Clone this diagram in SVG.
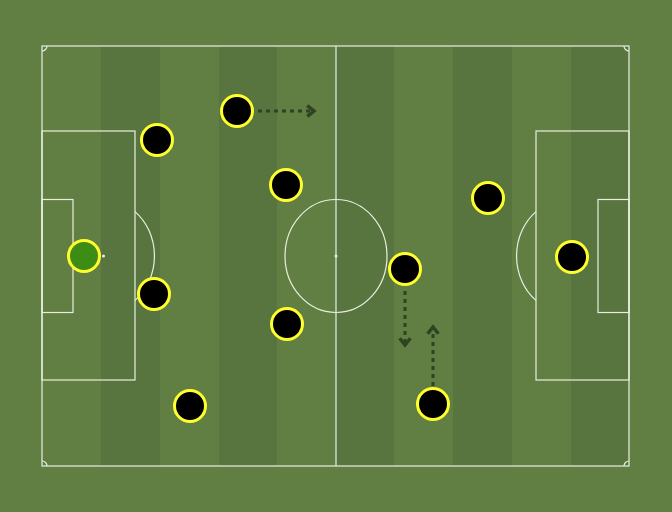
<svg xmlns="http://www.w3.org/2000/svg" width="672" height="512" viewBox="0 0 672 512">
<style>
.line{fill:none;stroke:#e8eee0;stroke-width:1.2}
.stripe{fill:#587540}
.p{fill:#000;stroke:#ffff2e;stroke-width:3}
.gk{fill:#3d8c16;stroke:#ffff2e;stroke-width:3}
.run{fill:none;stroke:#2f4320;stroke-width:3;stroke-dasharray:4 4}
</style>
<defs>
<marker id="ah" viewBox="0 0 10 10" refX="7" refY="5" markerWidth="4.5" markerHeight="4.5" orient="auto" markerUnits="strokeWidth">
<polyline points="2,1 7,5 2,9" fill="none" stroke="#2f4320" stroke-width="2.6"/>
</marker>
</defs>
<rect width="672" height="512" fill="#617f43"/>
<g id="stripes">
<rect class="stripe" x="101" y="46" width="59" height="420"/>
<rect class="stripe" x="219" y="46" width="58" height="420"/>
<rect class="stripe" x="336" y="46" width="58" height="420"/>
<rect class="stripe" x="453" y="46" width="59" height="420"/>
<rect class="stripe" x="571" y="46" width="58" height="420"/>
</g>
<g id="pitch-lines">
<rect class="line" x="42" y="46" width="587" height="420"/>
<line class="line" x1="336" y1="46" x2="336" y2="466"/>
<ellipse class="line" cx="336" cy="256" rx="51" ry="56.5"/>
<circle cx="336" cy="256" r="1.5" fill="#e8eee0"/>
<rect class="line" x="42" y="131" width="93" height="249"/>
<rect class="line" x="42" y="199.5" width="31" height="113"/>
<path class="line" d="M135,211.6 A51,56.5 0 0 1 135,300.4"/>
<circle cx="103.5" cy="256" r="1.5" fill="#e8eee0"/>
<rect class="line" x="536" y="131" width="93" height="249"/>
<rect class="line" x="598" y="199.5" width="31" height="113"/>
<path class="line" d="M536,211.6 A51,56.5 0 0 0 536,300.4"/>
<circle cx="567.5" cy="256" r="1.5" fill="#e8eee0"/>
<path class="line" d="M42,51 A5,5 0 0 0 47,46"/>
<path class="line" d="M624,46 A5,5 0 0 0 629,51"/>
<path class="line" d="M42,461 A5,5 0 0 1 47,466"/>
<path class="line" d="M624,466 A5,5 0 0 1 629,461"/>
</g>
<g id="connectors">
<line class="run" x1="258" y1="111" x2="314" y2="111" marker-end="url(#ah)"/>
<line class="run" x1="405" y1="291" x2="405" y2="345" marker-end="url(#ah)"/>
<line class="run" x1="433" y1="386" x2="433" y2="327" marker-end="url(#ah)"/>
</g>
<g id="gk"><circle class="gk" cx="84" cy="256" r="15.5"/></g>
<g id="p1"><circle class="p" cx="157" cy="140" r="15.5"/></g>
<g id="p2"><circle class="p" cx="237" cy="111" r="15.5"/></g>
<g id="p3"><circle class="p" cx="286" cy="185" r="15.5"/></g>
<g id="p4"><circle class="p" cx="154" cy="294" r="15.5"/></g>
<g id="p5"><circle class="p" cx="287" cy="324" r="15.5"/></g>
<g id="p6"><circle class="p" cx="190" cy="406" r="15.5"/></g>
<g id="p7"><circle class="p" cx="488" cy="198" r="15.5"/></g>
<g id="p8"><circle class="p" cx="405" cy="269" r="15.5"/></g>
<g id="p9"><circle class="p" cx="572" cy="257" r="15.5"/></g>
<g id="p10"><circle class="p" cx="433" cy="404" r="15.5"/></g>
</svg>
